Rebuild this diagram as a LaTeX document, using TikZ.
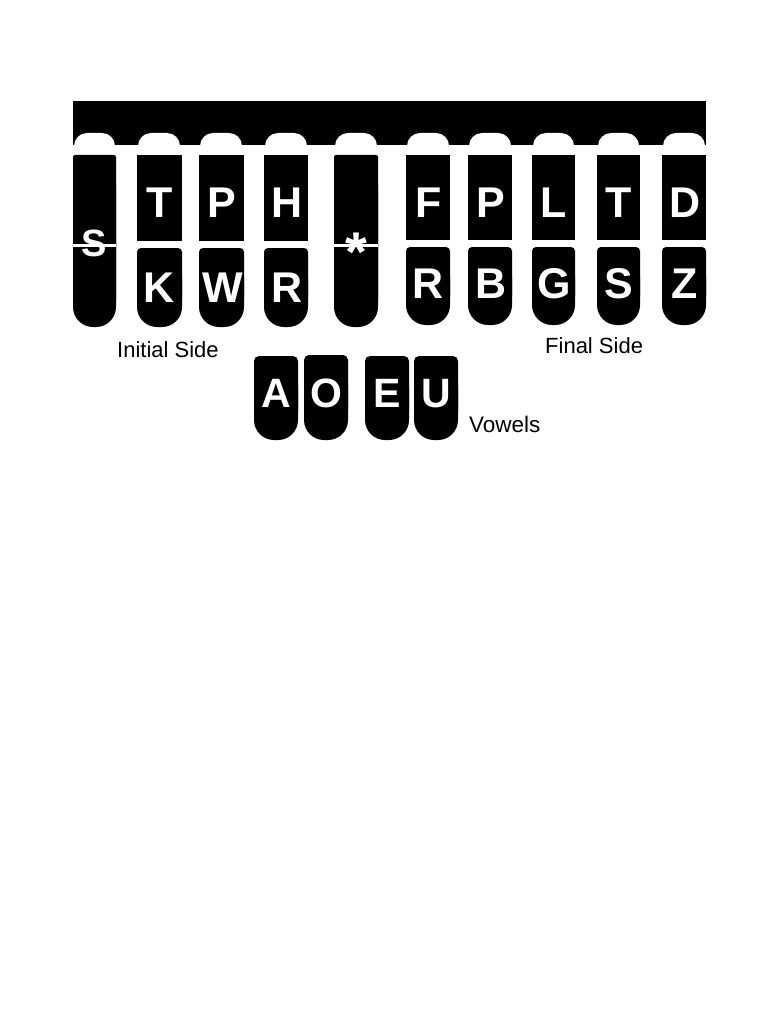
\documentclass[tikz,border=0pt]{standalone}
\usepackage{fontspec}
\setmainfont{Liberation Sans}
\newfontfamily\keyfont{Liberation Sans}
\tikzset{
  keyletter/.style={text=white, inner sep=0pt, anchor=base, font=\keyfont\bfseries\fontsize{43}{43}\selectfont},
  vowelletter/.style={text=white, inner sep=0pt, anchor=base, font=\keyfont\bfseries\fontsize{41}{41}\selectfont},
  sidelabel/.style={text=black, inner sep=0pt, anchor=base west, font=\fontsize{22}{22}\selectfont},
}
% key shape: x1, x2, top, bottom, top radius, bottom radius
\newcommand{\stenokey}[6]{%
  \fill[black, rounded corners=#5] (#1,#3) rectangle (#2,#4-25);
  \fill[black, rounded corners=#6] (#1,#3+10) rectangle (#2,#4);
}
\newcommand{\notch}[2]{%
  \fill[white, rounded corners=13] (#1,133) rectangle (#2,170);
}
\begin{document}
\begin{tikzpicture}[x=1pt, y=-1pt]
\useasboundingbox (0,0) rectangle (768,1024);
\fill[white] (0,0) rectangle (768,1024);
% top bar
\fill[black] (73,101) rectangle (706,145);
\notch{74}{115}
\notch{138}{180}
\notch{200}{242}
\notch{265}{307}
\notch{335}{377}
\notch{407}{449}
\notch{469}{511}
\notch{533}{574}
\notch{598}{639}
\notch{663}{705}
\fill[white] (73,145) rectangle (706,155);
% S and * full keys with split line
\stenokey{73}{116}{155}{327}{2}{20}
\stenokey{334}{378}{155}{327}{2}{20}
\draw[white, line width=3] (73,245) -- (116,245);
\draw[white, line width=3] (334,245) -- (378,245);
% upper initial keys
\fill[black] (137,155) rectangle (182,241);
\fill[black] (199,155) rectangle (244,241);
\fill[black] (264,155) rectangle (308,241);
% lower initial keys
\stenokey{137}{182}{248}{327}{4}{20}
\stenokey{199}{244}{248}{327}{4}{20}
\stenokey{264}{308}{248}{327}{4}{20}
% upper final keys
\fill[black] (406,155) rectangle (450,240);
\fill[black] (468,155) rectangle (512,240);
\fill[black] (532,155) rectangle (575,240);
\fill[black] (597,155) rectangle (640,240);
\fill[black] (662,155) rectangle (706,240);
% lower final keys
\stenokey{406}{450}{247}{325}{4}{20}
\stenokey{468}{512}{247}{325}{4}{20}
\stenokey{532}{575}{247}{325}{4}{20}
\stenokey{597}{640}{247}{325}{4}{20}
\stenokey{662}{706}{247}{325}{4}{20}
% vowel keys
\stenokey{254}{298}{356}{440}{5}{20}
\stenokey{304}{348}{355}{440}{5}{20}
\stenokey{365}{409}{356}{440}{5}{20}
\stenokey{414}{458}{356}{440}{5}{20}
% letters
\node[keyletter, font=\keyfont\bfseries\fontsize{38}{38}\selectfont] (kS) at (94.5,256) {S};
\node[keyletter] (kT) at (159.5,218) {T};
\node[keyletter] (kP) at (222,218) {P};
\node[keyletter] (kH) at (287,218) {H};
\node[keyletter] (kK) at (159,302) {K};
\node[keyletter] (kW) at (223,302) {W};
\node[keyletter] (kR) at (287,302) {R};
\node[keyletter, font=\keyfont\bfseries\fontsize{56}{56}\selectfont] (kStar) at (356,271) {*};
\node[keyletter] (kF) at (428.5,218) {F};
\node[keyletter] (kPf) at (491,218) {P};
\node[keyletter] (kL) at (554,218) {L};
\node[keyletter] (kTf) at (619,218) {T};
\node[keyletter] (kD) at (685,218) {D};
\node[keyletter] (kRf) at (428.5,298) {R};
\node[keyletter] (kB) at (491,298) {B};
\node[keyletter] (kG) at (554,298) {G};
\node[keyletter] (kSf) at (619,298) {S};
\node[keyletter] (kZ) at (685,298) {Z};
\node[vowelletter] (vA) at (276.5,407) {A};
\node[vowelletter] (vO) at (326,407) {O};
\node[vowelletter] (vE) at (387,407) {E};
\node[vowelletter] (vU) at (436,407) {U};
% labels
\node[sidelabel] (initial) at (117,357) {Initial Side};
\node[sidelabel] (final) at (545,353) {Final Side};
\node[sidelabel, font=\fontsize{22.5}{22.5}\selectfont] (vowels) at (469,432) {Vowels};
\end{tikzpicture}
\end{document}
